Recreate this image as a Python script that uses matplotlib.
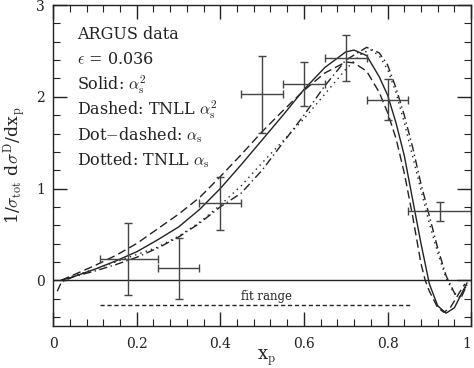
import numpy as np
import matplotlib
matplotlib.use("Agg")
import matplotlib.pyplot as plt
from matplotlib.ticker import MultipleLocator

plt.rcParams['mathtext.fontset'] = 'cm'
plt.rcParams['font.family'] = 'serif'
plt.rcParams['font.serif'] = ['DejaVu Serif']

# ARGUS data points
x_data = [0.18, 0.30, 0.40, 0.50, 0.60, 0.70, 0.80, 0.925]
y_data = [0.23, 0.13, 0.84, 2.03, 2.14, 2.42, 1.97, 0.75]
y_err = [0.39, 0.33, 0.29, 0.42, 0.24, 0.25, 0.22, 0.10]
x_lo = [0.112, 0.25, 0.35, 0.45, 0.55, 0.65, 0.75, 0.85]
x_hi = [0.25, 0.35, 0.45, 0.55, 0.65, 0.75, 0.85, 1.0]

# theory curves
solid_x = [0.02, 0.05, 0.10, 0.15, 0.20, 0.25, 0.30, 0.35, 0.40, 0.45, 0.50, 0.55,
           0.60, 0.65, 0.70, 0.72, 0.75, 0.78, 0.80, 0.82, 0.84, 0.86, 0.88, 0.90,
           0.92, 0.94, 0.96, 0.98, 0.99]
solid_y = [0.00, 0.04, 0.12, 0.21, 0.31, 0.44, 0.58, 0.77, 1.00, 1.26, 1.53, 1.80,
           2.08, 2.32, 2.49, 2.51, 2.45, 2.22, 2.02, 1.72, 1.36, 0.88, 0.40, -0.04,
           -0.28, -0.36, -0.30, -0.12, -0.03]

dash_x = [0.02, 0.05, 0.10, 0.15, 0.20, 0.25, 0.30, 0.35, 0.40, 0.45, 0.50, 0.55,
          0.60, 0.65, 0.70, 0.72, 0.75, 0.78, 0.80, 0.82, 0.84, 0.86, 0.88, 0.89,
          0.90, 0.92, 0.935, 0.95, 0.97, 0.985]
dash_y = [0.00, 0.06, 0.16, 0.27, 0.40, 0.56, 0.72, 0.90, 1.13, 1.37, 1.62, 1.85,
          2.07, 2.26, 2.38, 2.37, 2.28, 2.05, 1.83, 1.55, 1.17, 0.70, 0.18, 0.0,
          -0.12, -0.30, -0.35, -0.30, -0.15, -0.04]

dotdash_x = [0.01, 0.02, 0.05, 0.10, 0.15, 0.20, 0.25, 0.30, 0.35, 0.40, 0.45, 0.50,
             0.55, 0.60, 0.65, 0.70, 0.75, 0.78, 0.80, 0.82, 0.84, 0.86, 0.88, 0.90,
             0.92, 0.94, 0.96, 0.975, 0.99]
dotdash_y = [-0.12, -0.02, 0.04, 0.10, 0.17, 0.25, 0.35, 0.47, 0.62, 0.80, 0.95, 1.20,
             1.50, 1.80, 2.12, 2.40, 2.54, 2.48, 2.35, 2.10, 1.80, 1.45, 1.05, 0.70,
             0.35, 0.05, -0.14, -0.20, -0.05]

dot_x = [0.02, 0.05, 0.10, 0.15, 0.20, 0.25, 0.30, 0.35, 0.40, 0.45, 0.50, 0.55,
         0.60, 0.65, 0.70, 0.74, 0.76, 0.78, 0.80, 0.82, 0.84, 0.86, 0.88, 0.90,
         0.92, 0.94, 0.96, 0.975, 0.99]
dot_y = [0.00, 0.05, 0.12, 0.20, 0.28, 0.36, 0.48, 0.63, 0.82, 1.03, 1.28, 1.52,
         1.76, 2.03, 2.30, 2.48, 2.51, 2.45, 2.30, 2.05, 1.72, 1.35, 0.98, 0.62,
         0.30, 0.02, -0.15, -0.18, -0.05]

labels = ['ARGUS data',
          r'$\epsilon$ = 0.036',
          r'Solid: $\alpha_{\rm s}^2$',
          r'Dashed: TNLL $\alpha_{\rm s}^2$',
          r'Dot$-$dashed: $\alpha_{\rm s}$',
          r'Dotted: TNLL $\alpha_{\rm s}$']

fig = plt.figure(figsize=(4.74, 3.68), dpi=100)
ax = fig.add_axes([0.112, 0.114, 0.882, 0.872])

c = '#222222'
ax.axhline(0, color=c, lw=1.0)
ax.plot(solid_x, solid_y, color=c, lw=1.0)
ax.plot(dash_x, dash_y, color=c, lw=1.0, dashes=(6, 3))
ax.plot(dotdash_x, dotdash_y, color=c, lw=1.0, dashes=(6, 2.5, 1, 2.5))
ax.plot(dot_x, dot_y, color=c, lw=1.0, dashes=(1, 3))

xd = np.array(x_data)
xerr = [xd - np.array(x_lo), np.array(x_hi) - xd]
ax.errorbar(x_data, y_data, yerr=y_err, xerr=xerr, fmt='none', ecolor='#444444',
            elinewidth=1.0, capsize=3, capthick=1.0)

# fit range
ax.plot([0.112, 0.855], [-0.27, -0.27], color=c, lw=1.0, dashes=(3, 2))
ax.text(0.51, -0.175, 'fit range', ha='center', va='center', fontsize=8.5, color=c)

for i, t in enumerate(labels):
    ax.text(0.057, 2.68 - 0.274 * i, t, ha='left', va='center', fontsize=11.5, color=c)

ax.set_xlim(0, 1)
ax.set_ylim(-0.5, 3)
ax.xaxis.set_major_locator(MultipleLocator(0.2))
ax.xaxis.set_minor_locator(MultipleLocator(0.04))
ax.yaxis.set_major_locator(MultipleLocator(1))
ax.yaxis.set_minor_locator(MultipleLocator(0.2))
ax.set_xticks([0, 0.2, 0.4, 0.6, 0.8, 1.0])
ax.set_xticklabels(['0', '0.2', '0.4', '0.6', '0.8', '1'])
ax.set_yticks([0, 1, 2, 3])
ax.set_yticklabels(['0', '1', '2', '3'])
ax.tick_params(which='both', direction='in', top=True, right=True, labelsize=10, colors=c)
ax.tick_params(which='major', length=10, width=1.0)
ax.tick_params(axis='x', which='major', pad=8)
ax.tick_params(axis='y', which='major', pad=6)
ax.tick_params(which='minor', length=5, width=0.8)
for s in ax.spines.values():
    s.set_linewidth(1.0)
    s.set_color(c)
# keep the right-most tick label inside the picture
ax.get_xticklabels()[-1].set_horizontalalignment('right')
ax.get_xticklabels()[-1].set_x(1.006)

ax.text(0.51, -0.106, r'x$_{\rm p}$', transform=ax.transAxes, ha='center',
        va='baseline', fontsize=13, color=c)
ax.set_ylabel(r'1/$\sigma_{\rm tot}$ d$\sigma^{\rm D}$/dx$_{\rm p}$', fontsize=12.5, color=c)
ax.yaxis.set_label_coords(-0.058, 0.5)

fig.savefig('out.png', dpi=100)
